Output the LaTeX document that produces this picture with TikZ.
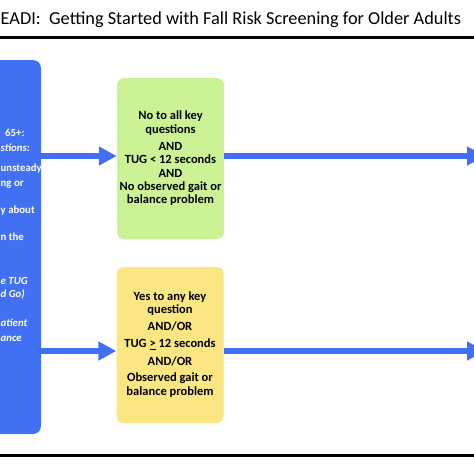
\documentclass[tikz,border=0pt]{standalone}
\usepackage{fontspec}
\setmainfont{Carlito}
\usetikzlibrary{arrows.meta,calc}
\definecolor{steadiblue}{RGB}{66,112,243}
\definecolor{lowgreen}{RGB}{204,242,150}
\definecolor{riskyellow}{RGB}{252,230,130}

\begin{document}
\begin{tikzpicture}[x=1pt, y=-1pt,
    every node/.style={font=\fontsize{12.5}{13}\selectfont\bfseries},
    headline/.style={font=\fontsize{18.3}{22}\selectfont, anchor=base west, inner sep=0pt},
    flow/.style={-{Triangle[length=18pt,width=18pt]}, line width=6pt, steadiblue},
    result/.style={rounded corners=7pt, minimum width=107pt, align=center, inner sep=0pt},
    side/.style={text=white, anchor=base west, inner sep=0pt,
        font=\fontsize{10.8}{13}\selectfont\bfseries}]
    \useasboundingbox (0,0) rectangle (474,474);
    \fill[white] (0,0) rectangle (474,474);

    % Title and horizontal rules.
    \node[headline] (brand) at (0.5,24) {EADI:};
    \node[headline] (title) at (49,24) {Getting Started with Fall Risk Screening for Older Adults};
    \draw[line width=2.5pt] (0,37.5) -- (474,37.5);
    \draw[line width=2.5pt] (0,455.5) -- (474,455.5);

    % Screening panel on the left.
    \node[fill=steadiblue, rounded corners=8pt, minimum width=100pt,
        minimum height=374pt, inner sep=0pt] (screen) at (-9,247) {};
    \foreach \i/\px/\py/\txt in {1/5/136/{65+:}, 2/0.5/151/{\itshape stions:},
        3/0.5/171/{unsteady}, 4/0.5/186/{ng or}, 5/0.5/213/{y about},
        6/0.5/240/{n the}, 7/0.5/284/{\itshape e TUG}, 8/0.5/297/{\itshape d Go)},
        9/0.5/326/{\itshape atient}, 10/0.5/341/{\itshape ance}}
        \node[side] (line\i) at (\px,\py) {\txt};

    % Result boxes.
    \node[result, fill=lowgreen, minimum height=161pt] (low) at (170.5,158.5)
        {No to all key\\[1pt]questions\\[4pt]AND\\TUG < 12 seconds\\[1pt]AND\\No observed gait or\\balance problem};
    \node[result, fill=riskyellow, minimum height=156pt] (risk) at (170,345)
        {Yes to any key\\question\\[4pt]AND/OR\\[4pt]TUG \underline{>} 12 seconds\\[5pt]AND/OR\\[3pt]Observed gait or\\[1pt]balance problem};

    % Arrows.
    \coordinate (in1) at ($(low.west)+(0,-2.5)$);
    \coordinate (in2) at ($(risk.west)+(0,6)$);
    \coordinate (next1) at (485,156);
    \coordinate (next2) at (485,351);
    \draw[flow] (screen.east |- in1) -- (in1);
    \draw[flow] (screen.east |- in2) -- (in2);
    \draw[flow] (low.east |- next1) -- (next1);
    \draw[flow] (risk.east |- next2) -- (next2);
\end{tikzpicture}
\end{document}
